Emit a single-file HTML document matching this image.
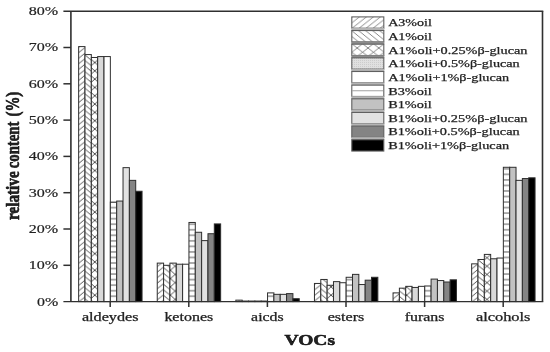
<!DOCTYPE html>
<html><head><meta charset="utf-8"><title>VOCs</title>
<style>html,body{margin:0;padding:0;background:#fff}svg{display:block;filter:blur(0.4px)}text{font-family:"Liberation Serif",serif;fill:#222}</style></head><body>
<svg width="550" height="352" viewBox="0 0 550 352">
<defs>
<pattern id="h1" patternUnits="userSpaceOnUse" width="6.9" height="5.54" patternTransform="translate(0,5.02)"><rect width="6.9" height="5.54" fill="#fff"/><path d="M-6.9,11.08 L13.8,-5.54 M-6.9,5.54 L6.9,-5.54 M0,11.08 L13.8,0" stroke="#2a2a2a" stroke-width="0.8"/></pattern>
<pattern id="h2" patternUnits="userSpaceOnUse" width="6.9" height="5.54" patternTransform="translate(0,3.47)"><rect width="6.9" height="5.54" fill="#fff"/><path d="M-6.9,-5.54 L13.8,11.08 M0,-5.54 L13.8,5.54 M-6.9,0 L6.9,11.08" stroke="#2a2a2a" stroke-width="0.8"/></pattern>
<pattern id="h3" patternUnits="userSpaceOnUse" width="9.45" height="8.31" patternTransform="translate(0.3,4.34)"><rect width="9.45" height="8.31" fill="#fff"/><path d="M-9.45,16.62 L18.9,-8.31 M-9.45,8.31 L9.45,-8.31 M0,16.62 L18.9,0 M-9.45,-8.31 L18.9,16.62 M0,-8.31 L18.9,8.31 M-9.45,0 L9.45,16.62" stroke="#2a2a2a" stroke-width="0.8"/></pattern>
<pattern id="h1L" patternUnits="userSpaceOnUse" width="7.0" height="5.6" patternTransform="translate(0,1.96)"><rect width="7.0" height="5.6" fill="#fff"/><path d="M-7.0,11.2 L14.0,-5.6 M-7.0,5.6 L7.0,-5.6 M0,11.2 L14.0,0" stroke="#4a4a4a" stroke-width="0.65"/></pattern>
<pattern id="h2L" patternUnits="userSpaceOnUse" width="7.0" height="5.6" patternTransform="translate(0,1.4)"><rect width="7.0" height="5.6" fill="#fff"/><path d="M-7.0,-5.6 L14.0,11.2 M0,-5.6 L14.0,5.6 M-7.0,0 L7.0,11.2" stroke="#4a4a4a" stroke-width="0.65"/></pattern>
<pattern id="h3L" patternUnits="userSpaceOnUse" width="10.8" height="8.4" patternTransform="translate(0.8,6.0)"><rect width="10.8" height="8.4" fill="#fff"/><path d="M-10.8,16.8 L21.6,-8.4 M-10.8,8.4 L10.8,-8.4 M0,16.8 L21.6,0 M-10.8,-8.4 L21.6,16.8 M0,-8.4 L21.6,8.4 M-10.8,0 L10.8,16.8" stroke="#4a4a4a" stroke-width="0.65"/></pattern>
<pattern id="h6" patternUnits="userSpaceOnUse" width="8" height="5.54" patternTransform="translate(0,2.62)"><rect width="8" height="5.54" y="-2.77" fill="#fff"/><rect width="8" height="5.54" y="2.77" fill="#fff"/><path d="M0,0 H8 M0,5.54 H8" stroke="#2a2a2a" stroke-width="0.8"/></pattern>
<pattern id="h4" patternUnits="userSpaceOnUse" width="2" height="2"><rect width="2" height="2" fill="#e0e0e0"/><rect width="1" height="1" fill="#cccccc"/></pattern>
</defs>
<rect width="550" height="352" fill="#fff"/>
<rect x="78.65" y="46.59" width="6.34" height="255.01" fill="url(#h1)" stroke="#2e2e2e" stroke-width="1"/>
<rect x="84.99" y="54.58" width="6.34" height="247.02" fill="url(#h2)" stroke="#2e2e2e" stroke-width="1"/>
<rect x="91.33" y="57.48" width="6.34" height="244.12" fill="url(#h3)" stroke="#2e2e2e" stroke-width="1"/>
<rect x="97.67" y="56.57" width="6.34" height="245.03" fill="#d9d9d9" stroke="#2e2e2e" stroke-width="1"/>
<rect x="104.01" y="56.57" width="6.34" height="245.03" fill="#ffffff" stroke="#2e2e2e" stroke-width="1"/>
<rect x="110.35" y="202.14" width="6.34" height="99.46" fill="url(#h6)" stroke="#2e2e2e" stroke-width="1"/>
<rect x="116.69" y="201.05" width="6.34" height="100.55" fill="#c2c2c2" stroke="#2e2e2e" stroke-width="1"/>
<rect x="123.03" y="167.65" width="6.34" height="133.95" fill="#e2e2e2" stroke="#2e2e2e" stroke-width="1"/>
<rect x="129.37" y="180.36" width="6.34" height="121.24" fill="#848484" stroke="#2e2e2e" stroke-width="1"/>
<rect x="135.71" y="191.25" width="6.34" height="110.35" fill="#000000" stroke="#2e2e2e" stroke-width="1"/>
<rect x="157.25" y="263.12" width="6.34" height="38.48" fill="url(#h1)" stroke="#2e2e2e" stroke-width="1"/>
<rect x="163.59" y="265.30" width="6.34" height="36.30" fill="url(#h2)" stroke="#2e2e2e" stroke-width="1"/>
<rect x="169.93" y="263.12" width="6.34" height="38.48" fill="url(#h3)" stroke="#2e2e2e" stroke-width="1"/>
<rect x="176.27" y="264.21" width="6.34" height="37.39" fill="#d9d9d9" stroke="#2e2e2e" stroke-width="1"/>
<rect x="182.61" y="264.21" width="6.34" height="37.39" fill="#ffffff" stroke="#2e2e2e" stroke-width="1"/>
<rect x="188.95" y="222.47" width="6.34" height="79.13" fill="url(#h6)" stroke="#2e2e2e" stroke-width="1"/>
<rect x="195.29" y="232.27" width="6.34" height="69.33" fill="#c2c2c2" stroke="#2e2e2e" stroke-width="1"/>
<rect x="201.63" y="240.62" width="6.34" height="60.98" fill="#e2e2e2" stroke="#2e2e2e" stroke-width="1"/>
<rect x="207.97" y="233.72" width="6.34" height="67.88" fill="#848484" stroke="#2e2e2e" stroke-width="1"/>
<rect x="214.31" y="223.92" width="6.34" height="77.68" fill="#000000" stroke="#2e2e2e" stroke-width="1"/>
<rect x="235.85" y="300.15" width="6.34" height="1.45" fill="url(#h1)" stroke="#2e2e2e" stroke-width="1"/>
<rect x="242.19" y="301.06" width="6.34" height="0.54" fill="url(#h2)" stroke="#2e2e2e" stroke-width="1"/>
<rect x="248.53" y="301.06" width="6.34" height="0.54" fill="url(#h3)" stroke="#2e2e2e" stroke-width="1"/>
<rect x="254.87" y="301.06" width="6.34" height="0.54" fill="#d9d9d9" stroke="#2e2e2e" stroke-width="1"/>
<rect x="261.21" y="301.06" width="6.34" height="0.54" fill="#ffffff" stroke="#2e2e2e" stroke-width="1"/>
<rect x="267.55" y="292.89" width="6.34" height="8.71" fill="url(#h6)" stroke="#2e2e2e" stroke-width="1"/>
<rect x="273.89" y="294.34" width="6.34" height="7.26" fill="#c2c2c2" stroke="#2e2e2e" stroke-width="1"/>
<rect x="280.23" y="294.34" width="6.34" height="7.26" fill="#e2e2e2" stroke="#2e2e2e" stroke-width="1"/>
<rect x="286.57" y="293.61" width="6.34" height="7.99" fill="#848484" stroke="#2e2e2e" stroke-width="1"/>
<rect x="292.91" y="298.70" width="6.34" height="2.90" fill="#000000" stroke="#2e2e2e" stroke-width="1"/>
<rect x="314.45" y="283.45" width="6.34" height="18.15" fill="url(#h1)" stroke="#2e2e2e" stroke-width="1"/>
<rect x="320.79" y="279.46" width="6.34" height="22.14" fill="url(#h2)" stroke="#2e2e2e" stroke-width="1"/>
<rect x="327.13" y="285.27" width="6.34" height="16.33" fill="url(#h3)" stroke="#2e2e2e" stroke-width="1"/>
<rect x="333.47" y="281.63" width="6.34" height="19.97" fill="#d9d9d9" stroke="#2e2e2e" stroke-width="1"/>
<rect x="339.81" y="282.72" width="6.34" height="18.88" fill="#ffffff" stroke="#2e2e2e" stroke-width="1"/>
<rect x="346.15" y="277.28" width="6.34" height="24.32" fill="url(#h6)" stroke="#2e2e2e" stroke-width="1"/>
<rect x="352.49" y="274.38" width="6.34" height="27.23" fill="#c2c2c2" stroke="#2e2e2e" stroke-width="1"/>
<rect x="358.83" y="284.54" width="6.34" height="17.06" fill="#e2e2e2" stroke="#2e2e2e" stroke-width="1"/>
<rect x="365.17" y="280.18" width="6.34" height="21.42" fill="#848484" stroke="#2e2e2e" stroke-width="1"/>
<rect x="371.51" y="277.28" width="6.34" height="24.32" fill="#000000" stroke="#2e2e2e" stroke-width="1"/>
<rect x="393.05" y="292.89" width="6.34" height="8.71" fill="url(#h1)" stroke="#2e2e2e" stroke-width="1"/>
<rect x="399.39" y="288.17" width="6.34" height="13.43" fill="url(#h2)" stroke="#2e2e2e" stroke-width="1"/>
<rect x="405.73" y="286.35" width="6.34" height="15.25" fill="url(#h3)" stroke="#2e2e2e" stroke-width="1"/>
<rect x="412.07" y="287.44" width="6.34" height="14.16" fill="#d9d9d9" stroke="#2e2e2e" stroke-width="1"/>
<rect x="418.41" y="286.35" width="6.34" height="15.25" fill="#ffffff" stroke="#2e2e2e" stroke-width="1"/>
<rect x="424.75" y="285.99" width="6.34" height="15.61" fill="url(#h6)" stroke="#2e2e2e" stroke-width="1"/>
<rect x="431.09" y="279.09" width="6.34" height="22.51" fill="#c2c2c2" stroke="#2e2e2e" stroke-width="1"/>
<rect x="437.43" y="280.55" width="6.34" height="21.05" fill="#e2e2e2" stroke="#2e2e2e" stroke-width="1"/>
<rect x="443.77" y="282.00" width="6.34" height="19.60" fill="#848484" stroke="#2e2e2e" stroke-width="1"/>
<rect x="450.11" y="279.82" width="6.34" height="21.78" fill="#000000" stroke="#2e2e2e" stroke-width="1"/>
<rect x="471.65" y="263.85" width="6.34" height="37.75" fill="url(#h1)" stroke="#2e2e2e" stroke-width="1"/>
<rect x="477.99" y="259.49" width="6.34" height="42.11" fill="url(#h2)" stroke="#2e2e2e" stroke-width="1"/>
<rect x="484.33" y="254.41" width="6.34" height="47.19" fill="url(#h3)" stroke="#2e2e2e" stroke-width="1"/>
<rect x="490.67" y="258.77" width="6.34" height="42.83" fill="#d9d9d9" stroke="#2e2e2e" stroke-width="1"/>
<rect x="497.01" y="258.04" width="6.34" height="43.56" fill="#ffffff" stroke="#2e2e2e" stroke-width="1"/>
<rect x="503.35" y="167.29" width="6.34" height="134.31" fill="url(#h6)" stroke="#2e2e2e" stroke-width="1"/>
<rect x="509.69" y="167.29" width="6.34" height="134.31" fill="#c2c2c2" stroke="#2e2e2e" stroke-width="1"/>
<rect x="516.03" y="180.36" width="6.34" height="121.24" fill="#e2e2e2" stroke="#2e2e2e" stroke-width="1"/>
<rect x="522.37" y="178.54" width="6.34" height="123.06" fill="#848484" stroke="#2e2e2e" stroke-width="1"/>
<rect x="528.71" y="177.82" width="6.34" height="123.78" fill="#000000" stroke="#2e2e2e" stroke-width="1"/>
<path d="M63.4,11.2 H543.3 M543.3,301.6 H63.4" fill="none" stroke="#303030" stroke-width="1.35"/>
<path d="M70.9,11.2 V301.6 M542.5,11.2 V301.6" fill="none" stroke="#303030" stroke-width="1.6"/>
<text x="37.0" y="305.50" font-size="13" stroke="#222" stroke-width="0.2" textLength="21.2" lengthAdjust="spacingAndGlyphs">0%</text>
<path d="M63.4,265.30 H70.9" stroke="#303030" stroke-width="1.5"/>
<text x="28.8" y="269.20" font-size="13" stroke="#222" stroke-width="0.2" textLength="29.4" lengthAdjust="spacingAndGlyphs">10%</text>
<path d="M63.4,229.00 H70.9" stroke="#303030" stroke-width="1.5"/>
<text x="28.8" y="232.90" font-size="13" stroke="#222" stroke-width="0.2" textLength="29.4" lengthAdjust="spacingAndGlyphs">20%</text>
<path d="M63.4,192.70 H70.9" stroke="#303030" stroke-width="1.5"/>
<text x="28.8" y="196.60" font-size="13" stroke="#222" stroke-width="0.2" textLength="29.4" lengthAdjust="spacingAndGlyphs">30%</text>
<path d="M63.4,156.40 H70.9" stroke="#303030" stroke-width="1.5"/>
<text x="28.8" y="160.30" font-size="13" stroke="#222" stroke-width="0.2" textLength="29.4" lengthAdjust="spacingAndGlyphs">40%</text>
<path d="M63.4,120.10 H70.9" stroke="#303030" stroke-width="1.5"/>
<text x="28.8" y="124.00" font-size="13" stroke="#222" stroke-width="0.2" textLength="29.4" lengthAdjust="spacingAndGlyphs">50%</text>
<path d="M63.4,83.80 H70.9" stroke="#303030" stroke-width="1.5"/>
<text x="28.8" y="87.70" font-size="13" stroke="#222" stroke-width="0.2" textLength="29.4" lengthAdjust="spacingAndGlyphs">60%</text>
<path d="M63.4,47.50 H70.9" stroke="#303030" stroke-width="1.5"/>
<text x="28.8" y="51.40" font-size="13" stroke="#222" stroke-width="0.2" textLength="29.4" lengthAdjust="spacingAndGlyphs">70%</text>
<text x="28.8" y="15.10" font-size="13" stroke="#222" stroke-width="0.2" textLength="29.4" lengthAdjust="spacingAndGlyphs">80%</text>
<path d="M110.20,301.6 V307.0" stroke="#303030" stroke-width="1.5"/>
<text x="81.90" y="320.6" font-size="11.7" stroke="#222" stroke-width="0.25" textLength="56.6" lengthAdjust="spacingAndGlyphs">aldeydes</text>
<path d="M188.80,301.6 V307.0" stroke="#303030" stroke-width="1.5"/>
<text x="164.40" y="320.6" font-size="11.7" stroke="#222" stroke-width="0.25" textLength="48.8" lengthAdjust="spacingAndGlyphs">ketones</text>
<path d="M267.40,301.6 V307.0" stroke="#303030" stroke-width="1.5"/>
<text x="251.10" y="320.6" font-size="11.7" stroke="#222" stroke-width="0.25" textLength="32.6" lengthAdjust="spacingAndGlyphs">aicds</text>
<path d="M346.00,301.6 V307.0" stroke="#303030" stroke-width="1.5"/>
<text x="327.70" y="320.6" font-size="11.7" stroke="#222" stroke-width="0.25" textLength="36.6" lengthAdjust="spacingAndGlyphs">esters</text>
<path d="M424.60,301.6 V307.0" stroke="#303030" stroke-width="1.5"/>
<text x="404.70" y="320.6" font-size="11.7" stroke="#222" stroke-width="0.25" textLength="39.8" lengthAdjust="spacingAndGlyphs">furans</text>
<path d="M503.20,301.6 V307.0" stroke="#303030" stroke-width="1.5"/>
<text x="475.90" y="320.6" font-size="11.7" stroke="#222" stroke-width="0.25" textLength="54.6" lengthAdjust="spacingAndGlyphs">alcohols</text>
<text x="284.6" y="344.6" font-size="15" font-weight="bold" fill="#080808" stroke="#080808" stroke-width="0.5" textLength="50.4" lengthAdjust="spacingAndGlyphs">VOCs</text>
<g font-size="15" font-weight="bold" fill="#080808" stroke="#080808" stroke-width="0.45">
<text transform="translate(19.3,220.1) rotate(-90) scale(1,1.2)" textLength="48.8" lengthAdjust="spacingAndGlyphs">relative</text>
<text transform="translate(19.3,168.3) rotate(-90) scale(1,1.2)" textLength="46.8" lengthAdjust="spacingAndGlyphs">content</text>
<text transform="translate(19.3,116.5) rotate(-90) scale(1,1.2)" textLength="24.8" lengthAdjust="spacingAndGlyphs">(%)</text>
</g>
<rect x="351.8" y="16.90" width="32" height="11.3" fill="url(#h1L)" stroke="#606060" stroke-width="1.1"/>
<text x="388.2" y="26.30" font-size="10.5" stroke="#222" stroke-width="0.25" textLength="43.6" lengthAdjust="spacingAndGlyphs">A3%oil</text>
<rect x="351.3" y="27.95" width="33" height="2.9" fill="#b4b4b4"/>
<rect x="351.8" y="30.55" width="32" height="11.3" fill="url(#h2L)" stroke="#606060" stroke-width="1.1"/>
<text x="388.2" y="39.94" font-size="10.5" stroke="#222" stroke-width="0.25" textLength="43.6" lengthAdjust="spacingAndGlyphs">A1%oil</text>
<rect x="351.3" y="41.60" width="33" height="2.9" fill="#8c8c8c"/>
<rect x="351.8" y="44.20" width="32" height="11.3" fill="url(#h3L)" stroke="#606060" stroke-width="1.1"/>
<text x="388.2" y="53.58" font-size="10.5" stroke="#222" stroke-width="0.25" textLength="139.3" lengthAdjust="spacingAndGlyphs">A1%oli+0.25%β-glucan</text>
<rect x="351.3" y="55.25" width="33" height="2.9" fill="#8c8c8c"/>
<rect x="351.8" y="57.85" width="32" height="11.3" fill="url(#h4)" stroke="#606060" stroke-width="1.1"/>
<text x="388.2" y="67.22" font-size="10.5" stroke="#222" stroke-width="0.25" textLength="131.5" lengthAdjust="spacingAndGlyphs">A1%oli+0.5%β-glucan</text>
<rect x="351.3" y="68.90" width="33" height="2.9" fill="#b4b4b4"/>
<rect x="351.8" y="71.50" width="32" height="11.3" fill="#ffffff" stroke="#606060" stroke-width="1.1"/>
<text x="388.2" y="80.86" font-size="10.5" stroke="#222" stroke-width="0.25" textLength="121" lengthAdjust="spacingAndGlyphs">A1%oli+1%β-glucan</text>
<rect x="351.3" y="82.55" width="33" height="2.9" fill="#b4b4b4"/>
<rect x="351.8" y="85.15" width="32" height="11.3" fill="#fff" stroke="#606060" stroke-width="1.1"/>
<path d="M352.3,90.75 H383.3" stroke="#8a8a8a" stroke-width="0.8"/>
<text x="388.2" y="94.50" font-size="10.5" stroke="#222" stroke-width="0.25" textLength="43.6" lengthAdjust="spacingAndGlyphs">B3%oil</text>
<rect x="351.3" y="96.20" width="33" height="2.9" fill="#b4b4b4"/>
<rect x="351.8" y="98.80" width="32" height="11.3" fill="#c2c2c2" stroke="#606060" stroke-width="1.1"/>
<text x="388.2" y="108.14" font-size="10.5" stroke="#222" stroke-width="0.25" textLength="43.6" lengthAdjust="spacingAndGlyphs">B1%oil</text>
<rect x="351.3" y="109.85" width="33" height="2.9" fill="#b4b4b4"/>
<rect x="351.8" y="112.45" width="32" height="11.3" fill="#e2e2e2" stroke="#606060" stroke-width="1.1"/>
<text x="388.2" y="121.78" font-size="10.5" stroke="#222" stroke-width="0.25" textLength="139.3" lengthAdjust="spacingAndGlyphs">B1%oli+0.25%β-glucan</text>
<rect x="351.3" y="123.50" width="33" height="2.9" fill="#b4b4b4"/>
<rect x="351.8" y="126.10" width="32" height="11.3" fill="#848484" stroke="#606060" stroke-width="1.1"/>
<text x="388.2" y="135.42" font-size="10.5" stroke="#222" stroke-width="0.25" textLength="131.5" lengthAdjust="spacingAndGlyphs">B1%oli+0.5%β-glucan</text>
<rect x="351.3" y="137.15" width="33" height="2.9" fill="#b4b4b4"/>
<rect x="351.8" y="139.75" width="32" height="11.3" fill="#000000" stroke="#606060" stroke-width="1.1"/>
<text x="388.2" y="149.06" font-size="10.5" stroke="#222" stroke-width="0.25" textLength="121" lengthAdjust="spacingAndGlyphs">B1%oli+1%β-glucan</text>
</svg></body></html>
